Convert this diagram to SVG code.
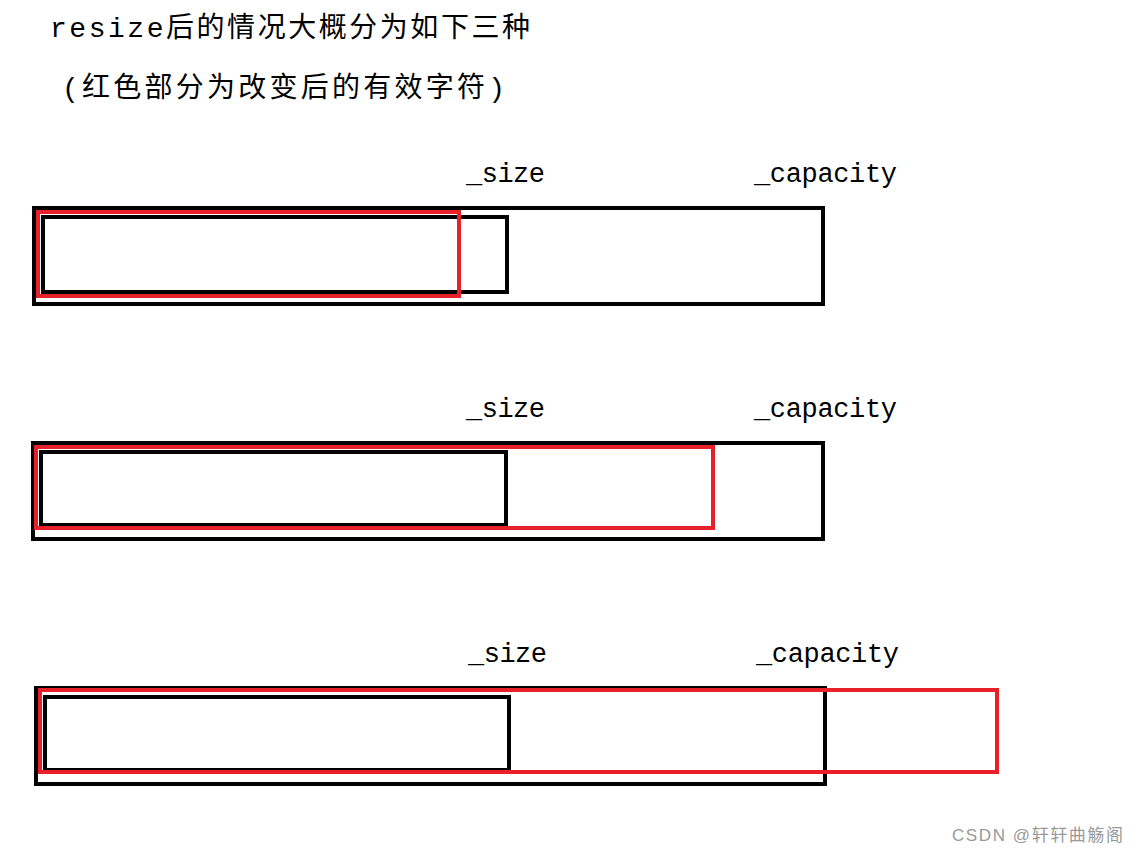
<svg xmlns="http://www.w3.org/2000/svg" width="1138" height="854" viewBox="0 0 1138 854">
<style>
.t{font-family:"Liberation Mono","Noto Sans CJK SC",monospace;font-size:28px;fill:#000}
.l{font-family:"Liberation Mono","Noto Sans CJK SC",monospace;font-size:27px;fill:#000}
.b{fill:none;stroke:#000;stroke-width:4}
.r{fill:none;stroke:#e8202a;stroke-width:4}
</style>
<rect width="1138" height="854" fill="#fff"/>
<text class="t" x="50" y="37" textLength="480">resize后的情况大概分为如下三种</text>
<text class="t" x="62" y="97" textLength="443">(红色部分为改变后的有效字符)</text>
<g id="case1">
<text class="l" x="466" y="182" textLength="79">_size</text>
<text class="l" x="754" y="182" textLength="143">_capacity</text>
<rect id="cap1" class="b" x="34" y="208" width="789" height="96"/>
<rect id="size1" class="b" x="43" y="217" width="464" height="75"/>
<rect id="new1" class="r" x="38" y="212" width="421" height="84"/>
</g>
<g id="case2">
<text class="l" x="466" y="417" textLength="79">_size</text>
<text class="l" x="754" y="417" textLength="143">_capacity</text>
<rect id="cap2" class="b" x="33" y="443" width="790" height="96"/>
<rect id="size2" class="b" x="41" y="452" width="465" height="73"/>
<rect id="new2" class="r" x="36" y="447" width="677" height="81"/>
</g>
<g id="case3">
<text class="l" x="468" y="662" textLength="79">_size</text>
<text class="l" x="756" y="662" textLength="143">_capacity</text>
<rect id="cap3" class="b" x="36" y="688" width="789" height="96"/>
<rect id="size3" class="b" x="45" y="697" width="464" height="73"/>
<rect id="new3" class="r" x="40" y="690" width="957" height="82"/>
</g>
<g id="connectors"/>
<text x="952" y="841" font-family="'Liberation Sans','Noto Sans CJK SC',sans-serif" font-size="17" fill="#999" textLength="171">CSDN @轩轩曲觞阁</text>
</svg>
